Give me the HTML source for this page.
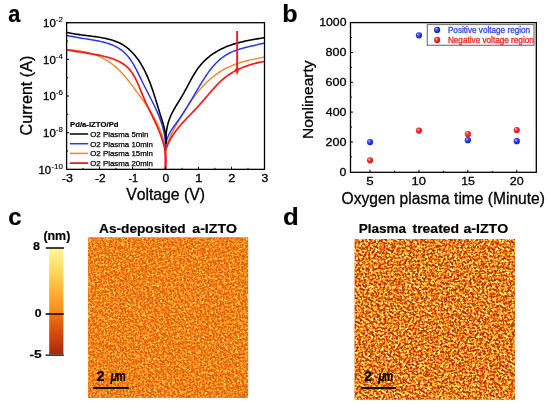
<!DOCTYPE html>
<html><head><meta charset="utf-8"><style>
html,body{margin:0;padding:0;background:#fff;width:550px;height:404px;overflow:hidden}
svg{display:block;filter:blur(0.3px)}
text{font-family:'Liberation Sans', Arial, sans-serif;font-kerning:none}
</style></head><body>
<svg width="550" height="404" viewBox="0 0 550 404">
<defs>
<clipPath id="clipA"><rect x="66.60" y="22.70" width="197.90" height="146.65"/></clipPath>
<radialGradient id="gb" cx="0.45" cy="0.45" r="0.6" fx="0.33" fy="0.3">
 <stop offset="0" stop-color="#e8f4ff"/><stop offset="0.28" stop-color="#4a5cf8"/><stop offset="0.75" stop-color="#1a28e0"/><stop offset="1" stop-color="#0c16a8"/></radialGradient>
<radialGradient id="gr" cx="0.45" cy="0.45" r="0.6" fx="0.33" fy="0.3">
 <stop offset="0" stop-color="#fff0f0"/><stop offset="0.28" stop-color="#f45050"/><stop offset="0.75" stop-color="#e41c1c"/><stop offset="1" stop-color="#a81010"/></radialGradient>
<linearGradient id="cbar" x1="0" y1="0" x2="0" y2="1">
 <stop offset="0" stop-color="#fff79c"/><stop offset="0.15" stop-color="#ffe470"/><stop offset="0.32" stop-color="#ffc444"/><stop offset="0.5" stop-color="#ff9e26"/>
 <stop offset="0.615" stop-color="#f88816"/><stop offset="0.63" stop-color="#f07212"/><stop offset="0.8" stop-color="#d64a0e"/><stop offset="1" stop-color="#a8280a"/></linearGradient>
<filter id="afmC" x="0" y="0" width="1" height="1" color-interpolation-filters="sRGB">
 <feTurbulence type="fractalNoise" baseFrequency="0.6" numOctaves="2" seed="7"/>
 <feColorMatrix type="matrix" values="1 0 0 0 0  1 0 0 0 0  1 0 0 0 0  0 0 0 0 1"/>
 <feComponentTransfer>
  <feFuncR type="table" tableValues="0.822 0.822 0.822 0.822 0.822 0.822 0.822 0.822 0.822 0.822 0.822 0.822 0.822 0.822 0.822 0.822 0.822 0.822 0.822 0.822 0.822 0.823 0.823 0.823 0.823 0.823 0.823 0.824 0.825 0.825 0.827 0.829 0.830 0.834 0.837 0.843 0.848 0.856 0.863 0.875 0.883 0.887 0.893 0.897 0.905 0.910 0.918 0.924 0.936 0.943 0.950 0.957 0.961 0.971 0.978 0.988 0.989 0.990 0.992 0.994 0.995 0.996 0.997 0.998 1.000 1.000 1.000 1.000 1.000 1.000 1.000 1.000 1.000 1.000 1.000 1.000 1.000 1.000 1.000 1.000 1.000 1.000 1.000 1.000 1.000 1.000 1.000 1.000 1.000 1.000 1.000 1.000 1.000 1.000 1.000 1.000 1.000 1.000 1.000 1.000 1.000"/>
  <feFuncG type="table" tableValues="0.318 0.318 0.318 0.318 0.318 0.318 0.318 0.318 0.318 0.318 0.318 0.318 0.318 0.318 0.318 0.318 0.318 0.318 0.318 0.318 0.318 0.318 0.318 0.318 0.318 0.319 0.319 0.320 0.321 0.321 0.323 0.326 0.328 0.332 0.337 0.344 0.351 0.361 0.371 0.386 0.396 0.401 0.409 0.414 0.423 0.430 0.441 0.449 0.464 0.475 0.492 0.509 0.520 0.546 0.564 0.587 0.601 0.623 0.647 0.679 0.695 0.718 0.736 0.745 0.779 0.802 0.829 0.841 0.855 0.862 0.869 0.875 0.878 0.881 0.883 0.885 0.885 0.886 0.886 0.886 0.886 0.887 0.887 0.887 0.887 0.887 0.887 0.887 0.887 0.887 0.887 0.887 0.887 0.887 0.887 0.887 0.887 0.887 0.887 0.887 0.887"/>
  <feFuncB type="table" tableValues="0.051 0.051 0.051 0.051 0.051 0.051 0.051 0.051 0.051 0.051 0.051 0.051 0.051 0.051 0.051 0.051 0.051 0.051 0.051 0.051 0.051 0.051 0.051 0.051 0.051 0.051 0.052 0.052 0.052 0.052 0.052 0.053 0.053 0.054 0.055 0.056 0.057 0.059 0.061 0.063 0.065 0.066 0.067 0.068 0.070 0.071 0.073 0.075 0.077 0.081 0.089 0.098 0.103 0.116 0.125 0.137 0.143 0.155 0.167 0.183 0.191 0.202 0.211 0.216 0.233 0.267 0.314 0.337 0.362 0.375 0.387 0.397 0.403 0.409 0.411 0.414 0.415 0.417 0.417 0.417 0.418 0.418 0.418 0.418 0.418 0.418 0.418 0.418 0.418 0.418 0.418 0.418 0.418 0.418 0.418 0.418 0.418 0.418 0.418 0.418 0.418"/>
 </feComponentTransfer>
</filter>
<filter id="afmD" x="0" y="0" width="1" height="1" color-interpolation-filters="sRGB">
 <feTurbulence type="fractalNoise" baseFrequency="0.55" numOctaves="2" seed="11"/>
 <feColorMatrix type="matrix" values="1 0 0 0 0  1 0 0 0 0  1 0 0 0 0  0 0 0 0 1"/>
 <feComponentTransfer>
  <feFuncR type="table" tableValues="0.627 0.627 0.627 0.627 0.627 0.627 0.627 0.627 0.627 0.627 0.627 0.627 0.627 0.627 0.627 0.627 0.627 0.627 0.627 0.627 0.628 0.628 0.628 0.628 0.628 0.629 0.630 0.631 0.632 0.634 0.637 0.640 0.644 0.650 0.656 0.666 0.672 0.686 0.697 0.717 0.727 0.746 0.768 0.784 0.809 0.826 0.851 0.868 0.896 0.915 0.944 0.962 0.974 0.989 0.990 0.993 0.995 0.998 1.000 1.000 1.000 1.000 1.000 0.998 0.996 0.994 0.993 0.992 0.991 0.990 0.990 0.989 0.989 0.989 0.989 0.988 0.988 0.988 0.988 0.988 0.988 0.988 0.988 0.988 0.988 0.988 0.988 0.988 0.988 0.988 0.988 0.988 0.988 0.988 0.988 0.988 0.988 0.988 0.988 0.988 0.988"/>
  <feFuncG type="table" tableValues="0.157 0.157 0.157 0.157 0.157 0.157 0.157 0.157 0.157 0.157 0.157 0.157 0.157 0.157 0.157 0.157 0.157 0.157 0.157 0.157 0.157 0.157 0.157 0.157 0.158 0.158 0.159 0.159 0.161 0.162 0.164 0.167 0.170 0.175 0.179 0.187 0.192 0.203 0.211 0.226 0.235 0.249 0.266 0.278 0.301 0.322 0.355 0.377 0.413 0.437 0.477 0.523 0.552 0.595 0.622 0.668 0.701 0.749 0.778 0.810 0.836 0.870 0.896 0.905 0.917 0.924 0.933 0.937 0.943 0.946 0.949 0.951 0.953 0.954 0.955 0.955 0.956 0.956 0.956 0.956 0.957 0.957 0.957 0.957 0.957 0.957 0.957 0.957 0.957 0.957 0.957 0.957 0.957 0.957 0.957 0.957 0.957 0.957 0.957 0.957 0.957"/>
  <feFuncB type="table" tableValues="0.039 0.039 0.039 0.039 0.039 0.039 0.039 0.039 0.039 0.039 0.039 0.039 0.039 0.039 0.039 0.039 0.039 0.039 0.039 0.039 0.039 0.039 0.039 0.039 0.039 0.039 0.039 0.039 0.039 0.039 0.040 0.040 0.040 0.040 0.040 0.041 0.041 0.042 0.042 0.043 0.044 0.044 0.045 0.046 0.048 0.052 0.058 0.062 0.068 0.073 0.082 0.105 0.119 0.140 0.154 0.177 0.194 0.218 0.232 0.281 0.327 0.388 0.438 0.473 0.517 0.543 0.576 0.593 0.614 0.624 0.637 0.646 0.652 0.656 0.659 0.661 0.663 0.664 0.665 0.665 0.666 0.666 0.666 0.667 0.667 0.667 0.667 0.667 0.667 0.667 0.667 0.667 0.667 0.667 0.667 0.667 0.667 0.667 0.667 0.667 0.667"/>
 </feComponentTransfer>
</filter>
</defs>
<g clip-path="url(#clipA)" fill="none" stroke-linejoin="round" stroke-linecap="round">
<path d="M66.97,49.83 L68.29,49.85 L69.61,49.88 L70.92,49.94 L72.23,50.02 L73.54,50.11 L74.84,50.23 L76.14,50.36 L77.43,50.52 L78.71,50.69 L80.00,50.89 L81.27,51.10 L82.54,51.33 L83.80,51.59 L85.06,51.86 L86.31,52.15 L87.55,52.46 L88.78,52.80 L90.01,53.15 L91.23,53.52 L92.44,53.91 L93.64,54.32 L94.83,54.75 L96.01,55.20 L97.18,55.66 L98.34,56.15 L99.49,56.66 L100.62,57.19 L101.75,57.73 L102.87,58.30 L103.97,58.88 L105.06,59.49 L106.14,60.11 L107.20,60.75 L108.26,61.41 L109.29,62.10 L110.32,62.80 L111.33,63.52 L112.32,64.26 L113.30,65.01 L114.27,65.79 L115.22,66.59 L116.15,67.40 L117.08,68.24 L117.99,69.08 L118.88,69.95 L119.77,70.83 L120.64,71.72 L121.50,72.63 L122.35,73.55 L123.20,74.48 L124.03,75.43 L124.85,76.38 L125.67,77.35 L126.48,78.33 L127.28,79.31 L128.07,80.30 L128.86,81.30 L129.65,82.31 L130.43,83.32 L131.20,84.34 L131.98,85.36 L132.75,86.39 L133.51,87.42 L134.28,88.45 L135.05,89.49 L135.81,90.52 L136.57,91.56 L137.34,92.60 L138.10,93.63 L138.86,94.67 L139.62,95.71 L140.38,96.75 L141.13,97.79 L141.89,98.83 L142.64,99.88 L143.38,100.92 L144.12,101.97 L144.86,103.02 L145.59,104.07 L146.31,105.13 L147.03,106.19 L147.75,107.25 L148.45,108.31 L149.15,109.38 L149.84,110.45 L150.52,111.52 L151.19,112.60 L151.86,113.68 L152.51,114.76 L153.15,115.85 L153.79,116.94 L154.41,118.04 L155.02,119.14 L155.62,120.25 L156.20,121.36 L156.77,122.48 L157.33,123.60 L157.88,124.73 L158.41,125.86 L158.93,127.00 L159.43,128.15 L159.92,129.30 L160.39,130.46 L160.84,131.62 L161.28,132.79 L161.69,133.97 L162.10,135.16 L162.48,136.35 L162.84,137.55 L163.19,138.75 L163.51,139.97 L163.82,141.19 L164.10,142.42 L164.37,143.66 L164.61,144.91 L164.83,146.16 L165.03,147.43 L165.20,148.70 L165.36,149.98" stroke="#e8862e" stroke-width="1.4"/>
<path d="M165.34,149.96 L165.65,148.79 L165.99,147.63 L166.35,146.48 L166.72,145.33 L167.12,144.19 L167.53,143.06 L167.95,141.93 L168.39,140.81 L168.85,139.70 L169.33,138.60 L169.81,137.50 L170.31,136.40 L170.82,135.31 L171.35,134.23 L171.89,133.15 L172.43,132.07 L172.99,131.00 L173.56,129.93 L174.13,128.86 L174.71,127.80 L175.30,126.73 L175.90,125.67 L176.51,124.62 L177.12,123.56 L177.73,122.51 L178.35,121.45 L178.97,120.40 L179.60,119.34 L180.22,118.29 L180.85,117.24 L181.49,116.18 L182.12,115.13 L182.76,114.08 L183.40,113.03 L184.04,111.98 L184.69,110.93 L185.34,109.88 L186.00,108.84 L186.66,107.80 L187.32,106.76 L187.99,105.73 L188.67,104.70 L189.35,103.68 L190.03,102.66 L190.72,101.64 L191.42,100.63 L192.12,99.63 L192.84,98.63 L193.55,97.63 L194.28,96.65 L195.01,95.67 L195.75,94.70 L196.49,93.73 L197.25,92.78 L198.01,91.83 L198.78,90.89 L199.56,89.96 L200.35,89.04 L201.15,88.13 L201.96,87.22 L202.78,86.33 L203.61,85.45 L204.44,84.58 L205.29,83.72 L206.14,82.88 L207.01,82.04 L207.89,81.21 L208.77,80.40 L209.67,79.60 L210.57,78.81 L211.48,78.04 L212.41,77.27 L213.34,76.52 L214.29,75.79 L215.24,75.07 L216.21,74.36 L217.18,73.66 L218.16,72.98 L219.16,72.32 L220.16,71.67 L221.18,71.03 L222.20,70.41 L223.24,69.81 L224.28,69.22 L225.34,68.65 L226.40,68.09 L227.48,67.55 L228.57,67.03 L229.66,66.53 L230.77,66.04 L231.89,65.57 L233.02,65.12 L234.15,64.68 L235.30,64.25 L236.45,63.84 L237.61,63.45 L238.77,63.07 L239.95,62.70 L241.12,62.34 L242.31,62.00 L243.49,61.66 L244.68,61.34 L245.88,61.03 L247.08,60.72 L248.28,60.43 L249.48,60.14 L250.68,59.87 L251.88,59.59 L253.09,59.33 L254.29,59.07 L255.49,58.82 L256.69,58.57 L257.89,58.33 L259.09,58.09 L260.28,57.85 L261.47,57.62 L262.66,57.39 L263.84,57.16 L265.02,56.93" stroke="#e8862e" stroke-width="1.4"/>
<path d="M67.01,49.79 L68.40,50.08 L69.79,50.35 L71.19,50.61 L72.60,50.86 L74.02,51.10 L75.45,51.34 L76.88,51.57 L78.31,51.79 L79.75,52.01 L81.20,52.23 L82.65,52.44 L84.10,52.66 L85.56,52.88 L87.02,53.10 L88.48,53.32 L89.94,53.55 L91.41,53.79 L92.87,54.04 L94.34,54.29 L95.80,54.56 L97.27,54.84 L98.73,55.13 L100.19,55.43 L101.65,55.75 L103.11,56.09 L104.56,56.45 L106.01,56.83 L107.45,57.22 L108.89,57.64 L110.33,58.09 L111.76,58.56 L113.18,59.05 L114.58,59.58 L115.97,60.13 L117.33,60.72 L118.67,61.35 L119.98,62.01 L121.26,62.71 L122.50,63.45 L123.70,64.23 L124.85,65.06 L125.96,65.94 L127.01,66.86 L128.02,67.83 L128.98,68.84 L129.89,69.89 L130.77,70.99 L131.60,72.11 L132.40,73.28 L133.17,74.47 L133.90,75.69 L134.61,76.94 L135.29,78.22 L135.94,79.52 L136.58,80.83 L137.20,82.17 L137.80,83.52 L138.39,84.88 L138.97,86.25 L139.54,87.63 L140.10,89.02 L140.66,90.41 L141.22,91.80 L141.79,93.19 L142.36,94.57 L142.94,95.95 L143.52,97.32 L144.12,98.69 L144.72,100.04 L145.33,101.39 L145.94,102.74 L146.56,104.08 L147.19,105.41 L147.82,106.74 L148.45,108.07 L149.08,109.39 L149.72,110.71 L150.36,112.03 L150.99,113.34 L151.63,114.66 L152.26,115.97 L152.89,117.28 L153.51,118.59 L154.13,119.91 L154.75,121.22 L155.36,122.54 L155.96,123.86 L156.56,125.18 L157.14,126.50 L157.72,127.83 L158.28,129.16 L158.84,130.50 L159.38,131.84 L159.91,133.19 L160.43,134.55 L160.93,135.91 L161.42,137.28 L161.89,138.65 L162.34,140.03 L162.77,141.42 L163.18,142.82 L163.57,144.22 L163.94,145.63 L164.28,147.05 L164.59,148.47 L164.87,149.90 L165.13,151.34 L165.35,152.78 L165.54,154.23 L165.69,155.68 L165.81,157.14 L165.89,158.61 L165.93,160.08 L165.93,161.55 L165.89,163.03 L165.81,164.52 L165.68,166.01 L165.50,167.51 L165.28,169.01" stroke="#ee1c1c" stroke-width="1.7"/>
<path d="M165.81,150.07 L166.16,148.94 L166.54,147.83 L166.93,146.73 L167.35,145.65 L167.79,144.58 L168.26,143.52 L168.74,142.48 L169.24,141.45 L169.77,140.43 L170.31,139.43 L170.87,138.43 L171.44,137.45 L172.04,136.48 L172.65,135.52 L173.27,134.57 L173.91,133.62 L174.57,132.69 L175.24,131.76 L175.92,130.85 L176.61,129.94 L177.32,129.03 L178.04,128.14 L178.76,127.25 L179.50,126.37 L180.25,125.49 L181.01,124.62 L181.77,123.75 L182.54,122.89 L183.32,122.03 L184.10,121.17 L184.90,120.32 L185.69,119.47 L186.49,118.63 L187.29,117.78 L188.10,116.94 L188.91,116.09 L189.72,115.25 L190.54,114.41 L191.35,113.57 L192.16,112.73 L192.97,111.88 L193.79,111.04 L194.60,110.19 L195.40,109.34 L196.21,108.49 L197.01,107.63 L197.80,106.78 L198.60,105.91 L199.38,105.05 L200.16,104.18 L200.94,103.30 L201.70,102.42 L202.47,101.54 L203.23,100.65 L203.99,99.77 L204.74,98.88 L205.50,97.99 L206.25,97.10 L207.00,96.22 L207.75,95.33 L208.50,94.44 L209.25,93.56 L210.01,92.68 L210.76,91.80 L211.52,90.93 L212.28,90.06 L213.05,89.20 L213.82,88.34 L214.59,87.49 L215.37,86.65 L216.16,85.81 L216.95,84.98 L217.75,84.16 L218.56,83.35 L219.38,82.55 L220.20,81.76 L221.04,80.98 L221.88,80.22 L222.74,79.46 L223.61,78.72 L224.49,77.99 L225.38,77.27 L226.29,76.57 L227.21,75.89 L228.14,75.22 L229.09,74.56 L230.06,73.93 L231.03,73.31 L232.02,72.70 L233.03,72.11 L234.05,71.54 L235.07,70.98 L236.11,70.44 L237.16,69.91 L238.22,69.40 L239.29,68.90 L240.37,68.42 L241.45,67.96 L242.54,67.51 L243.64,67.07 L244.75,66.65 L245.86,66.24 L246.98,65.85 L248.10,65.47 L249.22,65.10 L250.35,64.75 L251.48,64.41 L252.61,64.09 L253.74,63.78 L254.87,63.48 L256.01,63.20 L257.14,62.93 L258.27,62.67 L259.40,62.43 L260.53,62.20 L261.65,61.98 L262.78,61.78 L263.89,61.58 L265.01,61.40" stroke="#ee1c1c" stroke-width="1.7"/>
<path d="M67.01,35.40 L68.28,35.72 L69.56,36.03 L70.86,36.31 L72.17,36.59 L73.49,36.85 L74.82,37.09 L76.17,37.33 L77.52,37.56 L78.88,37.78 L80.25,37.99 L81.62,38.20 L83.01,38.41 L84.40,38.62 L85.79,38.83 L87.20,39.04 L88.60,39.26 L90.01,39.48 L91.42,39.70 L92.84,39.94 L94.25,40.19 L95.67,40.45 L97.09,40.72 L98.50,41.01 L99.92,41.31 L101.33,41.63 L102.74,41.98 L104.15,42.34 L105.54,42.72 L106.93,43.13 L108.30,43.57 L109.66,44.03 L110.99,44.52 L112.31,45.03 L113.61,45.58 L114.87,46.16 L116.12,46.77 L117.33,47.42 L118.50,48.10 L119.65,48.82 L120.75,49.58 L121.82,50.38 L122.86,51.21 L123.85,52.08 L124.82,52.98 L125.75,53.92 L126.65,54.88 L127.52,55.88 L128.37,56.90 L129.19,57.95 L129.99,59.02 L130.76,60.12 L131.51,61.24 L132.24,62.38 L132.96,63.54 L133.66,64.72 L134.34,65.92 L135.01,67.13 L135.66,68.35 L136.31,69.58 L136.94,70.83 L137.57,72.08 L138.19,73.34 L138.81,74.60 L139.43,75.87 L140.04,77.15 L140.65,78.42 L141.27,79.69 L141.89,80.97 L142.51,82.24 L143.13,83.50 L143.76,84.76 L144.40,86.02 L145.04,87.28 L145.68,88.53 L146.32,89.78 L146.96,91.03 L147.60,92.28 L148.24,93.53 L148.88,94.77 L149.52,96.01 L150.16,97.26 L150.79,98.50 L151.42,99.74 L152.04,100.99 L152.66,102.23 L153.27,103.48 L153.88,104.72 L154.48,105.97 L155.07,107.22 L155.65,108.47 L156.22,109.73 L156.78,110.98 L157.34,112.24 L157.87,113.51 L158.40,114.77 L158.92,116.04 L159.42,117.32 L159.90,118.60 L160.38,119.88 L160.83,121.17 L161.27,122.47 L161.69,123.77 L162.10,125.07 L162.48,126.38 L162.85,127.70 L163.20,129.03 L163.53,130.36 L163.83,131.70 L164.12,133.05 L164.38,134.41 L164.62,135.77 L164.83,137.14 L165.02,138.52 L165.19,139.91 L165.32,141.31 L165.44,142.72 L165.52,144.14 L165.58,145.58 L165.61,147.02" stroke="#2638f0" stroke-width="1.5"/>
<path d="M165.59,147.00 L165.67,145.65 L165.81,144.33 L166.01,143.04 L166.27,141.78 L166.58,140.54 L166.94,139.32 L167.36,138.12 L167.81,136.95 L168.31,135.79 L168.85,134.65 L169.43,133.53 L170.04,132.42 L170.67,131.32 L171.34,130.24 L172.02,129.16 L172.73,128.09 L173.46,127.04 L174.19,125.98 L174.94,124.93 L175.70,123.89 L176.46,122.84 L177.22,121.80 L177.98,120.75 L178.73,119.71 L179.48,118.65 L180.21,117.60 L180.94,116.53 L181.66,115.47 L182.38,114.40 L183.08,113.32 L183.78,112.25 L184.48,111.17 L185.16,110.08 L185.85,109.00 L186.52,107.91 L187.19,106.81 L187.86,105.72 L188.53,104.62 L189.19,103.52 L189.85,102.42 L190.50,101.32 L191.15,100.22 L191.81,99.12 L192.46,98.01 L193.11,96.90 L193.75,95.80 L194.40,94.69 L195.05,93.58 L195.70,92.48 L196.35,91.37 L197.01,90.27 L197.66,89.16 L198.32,88.06 L198.98,86.95 L199.64,85.85 L200.31,84.75 L200.98,83.65 L201.66,82.56 L202.34,81.46 L203.03,80.37 L203.72,79.28 L204.42,78.20 L205.12,77.12 L205.84,76.04 L206.56,74.98 L207.29,73.92 L208.03,72.87 L208.78,71.83 L209.55,70.80 L210.32,69.78 L211.11,68.78 L211.90,67.79 L212.71,66.81 L213.54,65.85 L214.38,64.90 L215.23,63.97 L216.10,63.06 L216.99,62.17 L217.89,61.30 L218.81,60.45 L219.75,59.62 L220.71,58.81 L221.68,58.03 L222.68,57.27 L223.70,56.53 L224.73,55.82 L225.79,55.14 L226.87,54.49 L227.98,53.87 L229.10,53.27 L230.25,52.70 L231.42,52.16 L232.60,51.65 L233.81,51.16 L235.02,50.69 L236.25,50.24 L237.50,49.81 L238.75,49.40 L240.02,49.01 L241.29,48.63 L242.56,48.27 L243.85,47.92 L245.13,47.58 L246.42,47.26 L247.71,46.94 L249.00,46.63 L250.28,46.33 L251.57,46.04 L252.84,45.75 L254.11,45.46 L255.37,45.17 L256.62,44.89 L257.86,44.60 L259.09,44.31 L260.30,44.02 L261.50,43.72 L262.68,43.42 L263.84,43.11 L264.99,42.79" stroke="#2638f0" stroke-width="1.5"/>
<path d="M67.01,32.39 L68.31,32.70 L69.63,32.99 L70.96,33.26 L72.30,33.52 L73.65,33.76 L75.01,33.99 L76.38,34.20 L77.76,34.41 L79.14,34.61 L80.54,34.80 L81.94,34.98 L83.35,35.17 L84.76,35.34 L86.18,35.52 L87.60,35.69 L89.03,35.87 L90.46,36.05 L91.90,36.23 L93.34,36.42 L94.78,36.62 L96.22,36.82 L97.66,37.03 L99.10,37.26 L100.54,37.50 L101.98,37.75 L103.42,38.01 L104.85,38.30 L106.28,38.60 L107.69,38.93 L109.10,39.27 L110.49,39.65 L111.87,40.04 L113.23,40.47 L114.58,40.93 L115.90,41.41 L117.21,41.93 L118.49,42.49 L119.74,43.08 L120.97,43.71 L122.17,44.38 L123.34,45.09 L124.49,45.84 L125.61,46.61 L126.70,47.43 L127.77,48.27 L128.82,49.15 L129.83,50.06 L130.83,50.99 L131.80,51.96 L132.75,52.95 L133.67,53.96 L134.57,55.01 L135.45,56.07 L136.31,57.16 L137.15,58.27 L137.97,59.39 L138.76,60.54 L139.54,61.70 L140.30,62.89 L141.03,64.08 L141.75,65.29 L142.46,66.51 L143.14,67.75 L143.80,68.99 L144.45,70.25 L145.09,71.51 L145.70,72.78 L146.31,74.06 L146.89,75.35 L147.47,76.64 L148.02,77.94 L148.57,79.25 L149.11,80.56 L149.63,81.88 L150.14,83.20 L150.64,84.53 L151.13,85.87 L151.61,87.20 L152.09,88.54 L152.55,89.89 L153.01,91.24 L153.46,92.59 L153.90,93.94 L154.34,95.29 L154.77,96.65 L155.20,98.01 L155.62,99.37 L156.04,100.73 L156.46,102.09 L156.87,103.45 L157.29,104.81 L157.70,106.16 L158.11,107.52 L158.52,108.88 L158.93,110.23 L159.34,111.58 L159.76,112.93 L160.18,114.28 L160.60,115.62 L161.02,116.96 L161.44,118.30 L161.86,119.63 L162.27,120.97 L162.68,122.30 L163.08,123.64 L163.46,124.98 L163.82,126.32 L164.17,127.67 L164.50,129.02 L164.80,130.37 L165.07,131.74 L165.32,133.11 L165.54,134.49 L165.72,135.88 L165.86,137.28 L165.97,138.69 L166.03,140.11 L166.05,141.55 L166.02,143.00" stroke="#000" stroke-width="1.6"/>
<path d="M166.02,143.01 L165.95,141.65 L165.92,140.28 L165.91,138.92 L165.94,137.56 L166.00,136.21 L166.08,134.86 L166.20,133.52 L166.34,132.18 L166.51,130.85 L166.72,129.53 L166.95,128.21 L167.21,126.90 L167.50,125.60 L167.82,124.32 L168.17,123.04 L168.54,121.77 L168.95,120.51 L169.38,119.27 L169.84,118.04 L170.33,116.82 L170.85,115.62 L171.39,114.43 L171.96,113.25 L172.55,112.08 L173.17,110.92 L173.80,109.77 L174.44,108.62 L175.10,107.48 L175.77,106.35 L176.45,105.22 L177.14,104.09 L177.84,102.96 L178.54,101.82 L179.24,100.69 L179.94,99.55 L180.64,98.41 L181.34,97.27 L182.03,96.11 L182.71,94.95 L183.38,93.78 L184.04,92.60 L184.69,91.41 L185.34,90.22 L185.99,89.02 L186.63,87.82 L187.27,86.62 L187.91,85.42 L188.55,84.22 L189.19,83.02 L189.83,81.82 L190.48,80.63 L191.13,79.44 L191.79,78.26 L192.45,77.08 L193.13,75.91 L193.81,74.76 L194.51,73.61 L195.22,72.48 L195.94,71.35 L196.67,70.25 L197.42,69.16 L198.19,68.08 L198.98,67.02 L199.79,65.99 L200.61,64.97 L201.46,63.97 L202.34,63.00 L203.23,62.04 L204.14,61.11 L205.08,60.20 L206.03,59.31 L207.01,58.44 L208.00,57.60 L209.02,56.77 L210.05,55.97 L211.09,55.18 L212.16,54.42 L213.24,53.68 L214.34,52.96 L215.45,52.26 L216.58,51.58 L217.72,50.92 L218.88,50.28 L220.05,49.66 L221.23,49.06 L222.43,48.47 L223.64,47.91 L224.85,47.37 L226.08,46.85 L227.32,46.35 L228.57,45.87 L229.83,45.40 L231.10,44.96 L232.37,44.53 L233.65,44.12 L234.94,43.72 L236.24,43.35 L237.54,42.98 L238.84,42.63 L240.15,42.29 L241.46,41.97 L242.78,41.66 L244.10,41.36 L245.42,41.07 L246.74,40.79 L248.06,40.52 L249.38,40.26 L250.70,40.01 L252.02,39.76 L253.33,39.53 L254.65,39.29 L255.96,39.07 L257.26,38.85 L258.57,38.63 L259.86,38.42 L261.16,38.21 L262.44,38.00 L263.72,37.79 L264.99,37.58" stroke="#000" stroke-width="1.6"/>
<path d="M165.4,148 V169" stroke="#ee1c1c" stroke-width="2"/>
</g>
<path d="M237.15,31 V70" stroke="#ee1c1c" stroke-width="1.9" fill="none"/>
<path d="M234.9,68.6 L237.15,75.4 L239.4,68.6 Z" fill="#ee1c1c"/>
<rect x="66.60" y="22.70" width="197.90" height="146.65" fill="none" stroke="#000" stroke-width="1.3"/>
<path d="M83.09,169.35 v-1.5 M99.58,169.35 v-2.5 M116.07,169.35 v-1.5 M132.57,169.35 v-2.5 M149.06,169.35 v-1.5 M165.55,169.35 v-2.5 M182.04,169.35 v-1.5 M198.53,169.35 v-2.5 M215.03,169.35 v-1.5 M231.52,169.35 v-2.5 M248.01,169.35 v-1.5 M66.60,151.02 h1.5 M66.60,132.69 h2.5 M66.60,114.36 h1.5 M66.60,96.03 h2.5 M66.60,77.69 h1.5 M66.60,59.36 h2.5 M66.60,41.03 h1.5 M66.60,22.70 h2.5" stroke="#000" stroke-width="1" fill="none"/>
<text x="61.85" y="182.40" font-size="10.30" textLength="11.10" lengthAdjust="spacingAndGlyphs" fill="#000" stroke="#000" stroke-width="0.30">-3</text>
<text x="95.07" y="182.40" font-size="10.30" textLength="10.52" lengthAdjust="spacingAndGlyphs" fill="#000" stroke="#000" stroke-width="0.30">-2</text>
<text x="128.52" y="182.40" font-size="10.30" textLength="9.61" lengthAdjust="spacingAndGlyphs" fill="#000" stroke="#000" stroke-width="0.30">-1</text>
<text x="162.48" y="182.40" font-size="10.30" textLength="6.75" lengthAdjust="spacingAndGlyphs" fill="#000" stroke="#000" stroke-width="0.30">0</text>
<text x="194.91" y="182.40" font-size="10.30" textLength="7.48" lengthAdjust="spacingAndGlyphs" fill="#000" stroke="#000" stroke-width="0.30">1</text>
<text x="228.28" y="182.40" font-size="10.30" textLength="7.08" lengthAdjust="spacingAndGlyphs" fill="#000" stroke="#000" stroke-width="0.30">2</text>
<text x="261.43" y="182.40" font-size="10.30" textLength="6.80" lengthAdjust="spacingAndGlyphs" fill="#000" stroke="#000" stroke-width="0.30">3</text>
<text x="43.13" y="27.00" font-size="10.20" textLength="12.72" lengthAdjust="spacingAndGlyphs" fill="#000" stroke="#000" stroke-width="0.30">10</text>
<text x="55.84" y="22.00" font-size="6.30" textLength="7.16" lengthAdjust="spacingAndGlyphs" fill="#000" stroke="#000" stroke-width="0.12">-2</text>
<text x="43.13" y="63.66" font-size="10.20" textLength="12.72" lengthAdjust="spacingAndGlyphs" fill="#000" stroke="#000" stroke-width="0.30">10</text>
<text x="55.85" y="58.66" font-size="6.30" textLength="6.98" lengthAdjust="spacingAndGlyphs" fill="#000" stroke="#000" stroke-width="0.12">-4</text>
<text x="43.13" y="100.33" font-size="10.20" textLength="12.72" lengthAdjust="spacingAndGlyphs" fill="#000" stroke="#000" stroke-width="0.30">10</text>
<text x="55.84" y="95.33" font-size="6.30" textLength="7.11" lengthAdjust="spacingAndGlyphs" fill="#000" stroke="#000" stroke-width="0.12">-6</text>
<text x="43.13" y="136.99" font-size="10.20" textLength="12.72" lengthAdjust="spacingAndGlyphs" fill="#000" stroke="#000" stroke-width="0.30">10</text>
<text x="55.85" y="131.99" font-size="6.30" textLength="7.10" lengthAdjust="spacingAndGlyphs" fill="#000" stroke="#000" stroke-width="0.12">-8</text>
<text x="38.54" y="173.65" font-size="10.20" textLength="12.61" lengthAdjust="spacingAndGlyphs" fill="#000" stroke="#000" stroke-width="0.30">10</text>
<text x="51.24" y="168.65" font-size="6.30" textLength="11.67" lengthAdjust="spacingAndGlyphs" fill="#000" stroke="#000" stroke-width="0.12">-10</text>
<text x="126.13" y="200.20" font-size="15.90" textLength="78.85" lengthAdjust="spacingAndGlyphs" fill="#000" stroke="#000" stroke-width="0.30">Voltage (V)</text>
<g transform="translate(31.75,0) rotate(-90)"><text x="-135.42" y="0.00" font-size="15.70" textLength="79.72" lengthAdjust="spacingAndGlyphs" fill="#000" stroke="#000" stroke-width="0.30">Current (A)</text></g>
<text x="70.08" y="126.70" font-size="7.70" font-weight="bold" textLength="48.42" lengthAdjust="spacingAndGlyphs" fill="#000" stroke="#000" stroke-width="0.20">Pd/a-IZTO/Pd</text>
<path d="M69.8,134.00 H88.2" stroke="#000" stroke-width="1.5"/>
<text x="90.2" y="136.80" font-size="7.9" stroke="#000" stroke-width="0.25">O2 Plasma 5min</text>
<path d="M69.8,143.70 H88.2" stroke="#2638f0" stroke-width="1.5"/>
<text x="90.2" y="146.50" font-size="7.9" stroke="#000" stroke-width="0.25">O2 Plasma 10min</text>
<path d="M69.8,153.40 H88.2" stroke="#e8862e" stroke-width="1.5"/>
<text x="90.2" y="156.20" font-size="7.9" stroke="#000" stroke-width="0.25">O2 Plasma 15min</text>
<path d="M69.8,163.10 H88.2" stroke="#ee1c1c" stroke-width="1.8"/>
<text x="90.2" y="165.90" font-size="7.9" stroke="#000" stroke-width="0.25">O2 Plasma 20min</text>
<text x="8.26" y="21.60" font-size="24.00" font-weight="bold" textLength="12.10" lengthAdjust="spacingAndGlyphs" fill="#000" stroke="#000" stroke-width="0.20">a</text>
<rect x="350.50" y="22.60" width="185.80" height="149.70" fill="none" stroke="#000" stroke-width="1.3"/>
<path d="M370.06,172.30 v-2.5 M394.51,172.30 v-1.5 M418.95,172.30 v-2.5 M443.40,172.30 v-1.5 M467.85,172.30 v-2.5 M492.29,172.30 v-1.5 M516.74,172.30 v-2.5 M350.50,156.88 h1.5 M350.50,141.96 h2.5 M350.50,127.04 h1.5 M350.50,112.12 h2.5 M350.50,97.20 h1.5 M350.50,82.28 h2.5 M350.50,67.36 h1.5 M350.50,52.44 h2.5 M350.50,37.52 h1.5" stroke="#000" stroke-width="1" fill="none"/>
<text x="366.37" y="184.60" font-size="11.80" textLength="7.39" lengthAdjust="spacingAndGlyphs" fill="#000" stroke="#000" stroke-width="0.30">5</text>
<text x="411.51" y="184.60" font-size="11.80" textLength="14.50" lengthAdjust="spacingAndGlyphs" fill="#000" stroke="#000" stroke-width="0.30">10</text>
<text x="461.16" y="184.60" font-size="11.80" textLength="13.76" lengthAdjust="spacingAndGlyphs" fill="#000" stroke="#000" stroke-width="0.30">15</text>
<text x="509.87" y="184.60" font-size="11.80" textLength="13.92" lengthAdjust="spacingAndGlyphs" fill="#000" stroke="#000" stroke-width="0.30">20</text>
<text x="339.62" y="175.50" font-size="11.80" textLength="6.86" lengthAdjust="spacingAndGlyphs" fill="#000" stroke="#000" stroke-width="0.30">0</text>
<text x="325.47" y="145.66" font-size="11.80" textLength="21.03" lengthAdjust="spacingAndGlyphs" fill="#000" stroke="#000" stroke-width="0.30">200</text>
<text x="325.82" y="115.82" font-size="11.80" textLength="20.67" lengthAdjust="spacingAndGlyphs" fill="#000" stroke="#000" stroke-width="0.30">400</text>
<text x="325.46" y="85.98" font-size="11.80" textLength="21.03" lengthAdjust="spacingAndGlyphs" fill="#000" stroke="#000" stroke-width="0.30">600</text>
<text x="325.55" y="56.14" font-size="11.80" textLength="20.94" lengthAdjust="spacingAndGlyphs" fill="#000" stroke="#000" stroke-width="0.30">800</text>
<text x="319.16" y="26.30" font-size="11.80" textLength="27.31" lengthAdjust="spacingAndGlyphs" fill="#000" stroke="#000" stroke-width="0.30">1000</text>
<text x="341.56" y="203.50" font-size="16.00" textLength="203.40" lengthAdjust="spacingAndGlyphs" fill="#000" stroke="#000" stroke-width="0.30">Oxygen plasma time (Minute)</text>
<g transform="translate(313.30,0) rotate(-90)"><text x="-139.07" y="0.00" font-size="15.40" textLength="78.61" lengthAdjust="spacingAndGlyphs" fill="#000" stroke="#000" stroke-width="0.30">Nonlinearty</text></g>
<circle cx="370.06" cy="160.31" r="3.1" fill="url(#gr)"/>
<circle cx="418.95" cy="130.62" r="3.1" fill="url(#gr)"/>
<circle cx="467.85" cy="134.05" r="3.1" fill="url(#gr)"/>
<circle cx="516.74" cy="130.02" r="3.1" fill="url(#gr)"/>
<circle cx="370.06" cy="142.11" r="3.1" fill="url(#gb)"/>
<circle cx="418.95" cy="35.28" r="3.1" fill="url(#gb)"/>
<circle cx="467.85" cy="140.17" r="3.1" fill="url(#gb)"/>
<circle cx="516.74" cy="141.21" r="3.1" fill="url(#gb)"/>
<rect x="427.3" y="24.5" width="106.7" height="20.8" fill="#fff" stroke="#7a7a7a" stroke-width="1.2"/>
<circle cx="437.10" cy="29.90" r="3.1" fill="url(#gb)"/>
<circle cx="437.10" cy="39.90" r="3.1" fill="url(#gr)"/>
<text x="447.93" y="32.70" font-size="8.60" textLength="82.20" lengthAdjust="spacingAndGlyphs" fill="#3a4ee8" stroke="#3a4ee8" stroke-width="0.35">Positive voltage region</text>
<text x="447.93" y="42.50" font-size="8.60" textLength="85.90" lengthAdjust="spacingAndGlyphs" fill="#ee2a2a" stroke="#ee2a2a" stroke-width="0.35">Negative voltage region</text>
<text x="282.24" y="21.60" font-size="24.00" font-weight="bold" textLength="15.40" lengthAdjust="spacingAndGlyphs" fill="#000" stroke="#000" stroke-width="0.20">b</text>
<rect x="49.2" y="248" width="14.2" height="106.4" fill="url(#cbar)"/>
<path d="M45.8,248 H63.9 M45.6,314 H63.8 M45.6,355.1 H63.8" stroke="#000" stroke-width="1.3"/>
<text x="33.00" y="250.30" font-size="11.00" font-weight="bold" textLength="6.98" lengthAdjust="spacingAndGlyphs" fill="#000" stroke="#000" stroke-width="0.20">8</text>
<text x="34.72" y="317.20" font-size="11.00" font-weight="bold" textLength="6.78" lengthAdjust="spacingAndGlyphs" fill="#000" stroke="#000" stroke-width="0.20">0</text>
<text x="29.56" y="358.00" font-size="11.00" font-weight="bold" textLength="12.22" lengthAdjust="spacingAndGlyphs" fill="#000" stroke="#000" stroke-width="0.20">-5</text>
<text x="43.38" y="240.40" font-size="12.60" font-weight="bold" textLength="26.94" lengthAdjust="spacingAndGlyphs" fill="#000" stroke="#000" stroke-width="0.20">(nm)</text>
<rect x="88.1" y="237.4" width="160" height="160.4" fill="#e98a1c"/>
<clipPath id="cpC"><rect x="88.1" y="237.4" width="160" height="160.4"/></clipPath>
<g clip-path="url(#cpC)"><rect x="40" y="190" width="256" height="256" transform="rotate(30 168.1 317.6)" filter="url(#afmC)"/></g>
<rect x="354.7" y="239.1" width="160.2" height="160.5" fill="#dc7420"/>
<clipPath id="cpD"><rect x="354.7" y="239.1" width="160.2" height="160.5"/></clipPath>
<g clip-path="url(#cpD)"><rect x="306.8" y="191.35" width="256" height="256" transform="rotate(30 434.8 319.35)" filter="url(#afmD)"/></g>
<text x="99.06" y="232.50" font-size="13.30" font-weight="bold" textLength="86.54" lengthAdjust="spacingAndGlyphs" fill="#000" stroke="#000" stroke-width="0.20">As-deposited</text>
<text x="192.29" y="232.50" font-size="13.30" font-weight="bold" textLength="44.71" lengthAdjust="spacingAndGlyphs" fill="#000" stroke="#000" stroke-width="0.20">a-IZTO</text>
<text x="358.70" y="232.50" font-size="13.30" font-weight="bold" textLength="47.32" lengthAdjust="spacingAndGlyphs" fill="#000" stroke="#000" stroke-width="0.20">Plasma</text>
<text x="412.53" y="232.50" font-size="13.30" font-weight="bold" textLength="46.59" lengthAdjust="spacingAndGlyphs" fill="#000" stroke="#000" stroke-width="0.20">treated</text>
<text x="463.49" y="232.50" font-size="13.30" font-weight="bold" textLength="44.71" lengthAdjust="spacingAndGlyphs" fill="#000" stroke="#000" stroke-width="0.20">a-IZTO</text>
<rect x="93.2" y="387" width="35.6" height="1.9" fill="#000"/>
<text x="96.40" y="380.90" font-size="14.80" font-weight="bold" textLength="8.09" lengthAdjust="spacingAndGlyphs" fill="#000" stroke="#000" stroke-width="0.20">2</text>
<text x="110.43" y="380.80" font-size="14.50" font-weight="bold" textLength="6.70" lengthAdjust="spacingAndGlyphs" fill="#000" stroke="#000" stroke-width="0.20" font-style="italic">&#956;</text>
<text x="116.20" y="380.80" font-size="14.50" font-weight="bold" textLength="9.46" lengthAdjust="spacingAndGlyphs" fill="#000" stroke="#000" stroke-width="0.20">m</text>
<rect x="361.2" y="387" width="34.8" height="1.9" fill="#000"/>
<text x="364.21" y="380.90" font-size="15.20" font-weight="bold" textLength="7.86" lengthAdjust="spacingAndGlyphs" fill="#000" stroke="#000" stroke-width="0.20">2</text>
<text x="378.26" y="380.80" font-size="14.50" font-weight="bold" textLength="6.44" lengthAdjust="spacingAndGlyphs" fill="#000" stroke="#000" stroke-width="0.20" font-style="italic">&#956;</text>
<text x="383.80" y="380.80" font-size="14.50" font-weight="bold" textLength="9.46" lengthAdjust="spacingAndGlyphs" fill="#000" stroke="#000" stroke-width="0.20">m</text>
<text x="8.36" y="224.70" font-size="24.50" font-weight="bold" textLength="13.34" lengthAdjust="spacingAndGlyphs" fill="#000" stroke="#000" stroke-width="0.20">c</text>
<text x="282.94" y="224.70" font-size="24.00" font-weight="bold" textLength="15.76" lengthAdjust="spacingAndGlyphs" fill="#000" stroke="#000" stroke-width="0.20">d</text>
</svg></body></html>
